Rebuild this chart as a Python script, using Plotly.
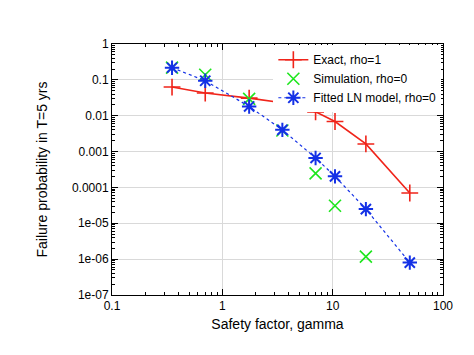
import plotly.graph_objects as go

gamma = [0.35, 0.7, 1.75, 3.5, 7, 10.5, 20, 50]
exact_rho1 = [0.063, 0.043, 0.031, 0.023, 0.0128, 0.0069, 0.00163, 7.0e-5]
sim_gamma = [0.35, 0.7, 1.75, 3.5, 7, 10.5, 20]
sim_rho0 = [0.22, 0.139, 0.0296, 0.00386, 2.47e-4, 3.08e-5, 1.18e-6]
fit_rho0 = [0.218, 0.0944, 0.0181, 0.00403, 6.64e-4, 2.04e-4, 2.49e-5, 8.0e-7]

xtick_vals = [0.1, 1, 10, 100]
xtick_text = ["0.1", "1", "10", "100"]
ytick_vals = [1, 0.1, 0.01, 0.001, 0.0001, 1e-5, 1e-6, 1e-7]
ytick_text = ["1", "0.1", "0.01", "0.001", "0.0001", "1e-05", "1e-06", "1e-07"]

red = "#f0241a"
green = "#1ee61e"
blue = "#1431e6"

fig = go.Figure()
fig.add_trace(go.Scatter(
    x=gamma, y=exact_rho1, mode="lines+markers", name="Exact, rho=1",
    line=dict(color=red, width=1.6),
    marker=dict(symbol="cross-thin-open", size=12, color=red, line=dict(color=red, width=1.6)),
))
fig.add_trace(go.Scatter(
    x=sim_gamma, y=sim_rho0, mode="markers", name="Simulation, rho=0",
    marker=dict(symbol="x-thin-open", size=12, color=green, line=dict(color=green, width=1.6)),
))
fig.add_trace(go.Scatter(
    x=gamma, y=fit_rho0, mode="lines+markers", name="Fitted LN model, rho=0",
    line=dict(color=blue, width=1.2, dash="dot"),
    marker=dict(symbol="asterisk-open", size=12, color=blue, line=dict(color=blue, width=2)),
))

axis_common = dict(
    type="log", showline=True, linecolor="black", linewidth=1, mirror="allticks",
    ticks="inside", ticklen=6, tickcolor="black", automargin=False,
    showgrid=True, gridcolor="#d9d9d9", gridwidth=1,
    zeroline=False, tickfont=dict(family="Liberation Sans, Arial", size=12, color="black"),
    minor=dict(ticks="inside", ticklen=3, tickcolor="black", dtick="D1", showgrid=False),
)

fig.update_layout(
    width=474, height=355,
    margin=dict(l=104, r=39, t=36, b=68),
    paper_bgcolor="white", plot_bgcolor="white",
    font=dict(family="Liberation Sans, Arial", size=12, color="black"),
    xaxis=dict(axis_common, range=[-1, 2], tickvals=xtick_vals, ticktext=xtick_text,
               title=dict(text="Safety factor, gamma", standoff=6)),
    yaxis=dict(axis_common, range=[-7, 0], tickvals=ytick_vals, ticktext=ytick_text,
               title=dict(text="Failure probability in T=5 yrs", standoff=20)),
    legend=dict(x=0.995, y=0.995, xanchor="right", yanchor="top",
                bgcolor="white", borderwidth=0, font=dict(size=12),
                tracegroupgap=0, itemwidth=30),
    showlegend=True,
)

fig.write_html("out.html")
